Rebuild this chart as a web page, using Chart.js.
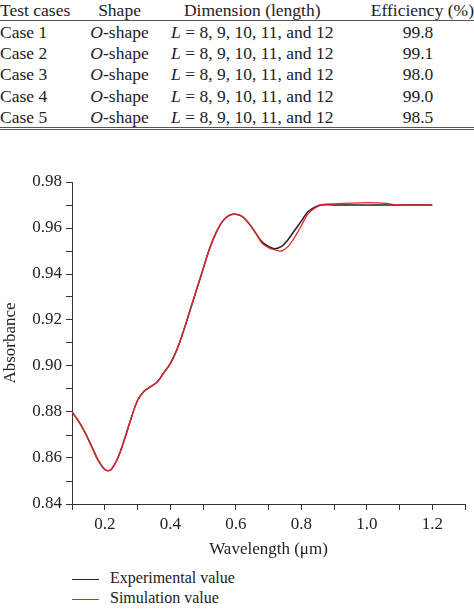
<!DOCTYPE html>
<html>
<head>
<meta charset="utf-8">
<script src="https://cdn.jsdelivr.net/npm/chart.js@4"></script>
<style>
  body { margin: 0; width: 474px; height: 609px; background: #fff; position: relative; overflow: hidden;
         font-family: "Liberation Serif", "DejaVu Serif", serif; color: #222; }
  #tbl { position: absolute; left: 0; top: 0; width: 474px; border-collapse: collapse; font-size: 17.5px; }
  #tbl th { font-weight: normal; height: 20px; padding: 0; border-bottom: 1px solid #555; line-height: 18px; white-space: nowrap; }
  #tbl td { padding: 0; height: 21.3px; line-height: 20px; white-space: nowrap; }
  #tbl tbody tr:last-child td { border-bottom: 3px double #555; }
  #wrap { position: absolute; left: 0; top: 0; width: 474px; height: 560px; }
  .leg { position: absolute; left: 72px; font-size: 16px; }
  .leg span { display: inline-block; width: 27px; height: 0; border-top: 1.5px solid; vertical-align: middle; margin-right: 11px; }
</style>
</head>
<body>
<table id="tbl">
  <thead><tr>
    <th style="text-align:left">Test cases</th><th>Shape</th><th>Dimension (length)</th><th style="text-align:right">Efficiency (%)</th>
  </tr></thead>
  <tbody id="rows"></tbody>
</table>
<div id="wrap"><canvas id="c"></canvas></div>
<div class="leg" style="top:569px"><span style="border-color:#222"></span>Experimental value</div>
<div class="leg" style="top:589px"><span style="border-color:#e8232a"></span>Simulation value</div>
<script>
const cases = ['Case 1', 'Case 2', 'Case 3', 'Case 4', 'Case 5'];
const efficiency = ['99.8', '99.1', '98.0', '99.0', '98.5'];

const wavelength = [0.1, 0.12, 0.14, 0.16, 0.18, 0.2, 0.21, 0.22, 0.24, 0.26, 0.28, 0.3, 0.32, 0.34, 0.36, 0.38,
  0.4, 0.42, 0.44, 0.46, 0.48, 0.5, 0.52, 0.54, 0.56, 0.58, 0.6, 0.62, 0.64, 0.66, 0.68, 0.7, 0.72, 0.74,
  0.76, 0.78, 0.8, 0.82, 0.84, 0.86, 0.9, 1.0, 1.05, 1.1, 1.2];
const experimental = [0.880, 0.876, 0.871, 0.865, 0.859, 0.855, 0.8545, 0.855, 0.860, 0.868, 0.877, 0.885, 0.889,
  0.891, 0.893, 0.897, 0.901, 0.907, 0.915, 0.924, 0.933, 0.942, 0.951, 0.958, 0.963, 0.9655, 0.966, 0.965,
  0.962, 0.958, 0.954, 0.952, 0.951, 0.952, 0.955, 0.959, 0.963, 0.967, 0.969, 0.970, 0.970, 0.970, 0.970, 0.970, 0.970];
const simulation = [0.880, 0.876, 0.871, 0.865, 0.859, 0.855, 0.8545, 0.855, 0.860, 0.868, 0.877, 0.885, 0.889,
  0.891, 0.893, 0.897, 0.901, 0.907, 0.915, 0.924, 0.933, 0.942, 0.951, 0.958, 0.963, 0.9655, 0.966, 0.965,
  0.962, 0.958, 0.9535, 0.9515, 0.9505, 0.950, 0.952, 0.956, 0.961, 0.966, 0.9685, 0.970, 0.9705, 0.971, 0.9708, 0.970, 0.970];

document.getElementById('rows').innerHTML = cases.map((c, i) => `<tr>
  <td>${c}</td><td style="text-align:center"><i>O</i>-shape</td>
  <td style="text-align:center"><i>L</i> = 8, 9, 10, 11, and 12</td>
  <td style="text-align:center;padding-left:12px">${efficiency[i]}</td></tr>`).join('');

const pts = arr => arr.map((v, i) => ({ x: wavelength[i], y: v }));
const font = { family: 'Liberation Serif', size: 17 };
const axisCommon = {
  border: { color: '#333', width: 1 },
  grid: { display: true, drawOnChartArea: false, drawTicks: true, tickLength: 6, color: '#333' },
};

new Chart(document.getElementById('c'), {
  type: 'line',
  data: {
    datasets: [
      { label: 'Experimental value', data: pts(experimental), borderColor: '#222', borderWidth: 1.5, pointRadius: 0, tension: 0.4, order: 2 },
      { label: 'Simulation value', data: pts(simulation), borderColor: '#e8232a', borderWidth: 1.3, pointRadius: 0, tension: 0.4, order: 1 }
    ]
  },
  options: {
    responsive: true, maintainAspectRatio: false, animation: false,
    layout: { padding: { top: 182, right: 9, left: 0, bottom: 0 } },
    plugins: { legend: { display: false }, tooltip: { enabled: false } },
    scales: {
      x: {
        ...axisCommon, type: 'linear', min: 0.1, max: 1.3,
        afterFit: s => { s.height = 56; },
        ticks: { stepSize: 0.1, color: '#222', font, padding: 4, maxRotation: 0, autoSkip: false,
          callback: v => { const k = Math.round(v * 10); return (k % 2 === 0 && k <= 12) ? (k / 10).toFixed(1) : ''; } },
        title: { display: true, text: 'Wavelength (μm)', color: '#222', font, padding: 0 }
      },
      y: {
        ...axisCommon, min: 0.84, max: 0.98,
        afterFit: s => { s.width = 72; },
        ticks: { stepSize: 0.01, color: '#222', font, padding: 4, autoSkip: false,
          callback: v => { const k = Math.round(v * 100); return k % 2 === 0 ? (k / 100).toFixed(2) : ''; } },
        title: { display: true, text: 'Absorbance', color: '#222', font, padding: 0 }
      }
    }
  }
});
</script>
</body>
</html>
